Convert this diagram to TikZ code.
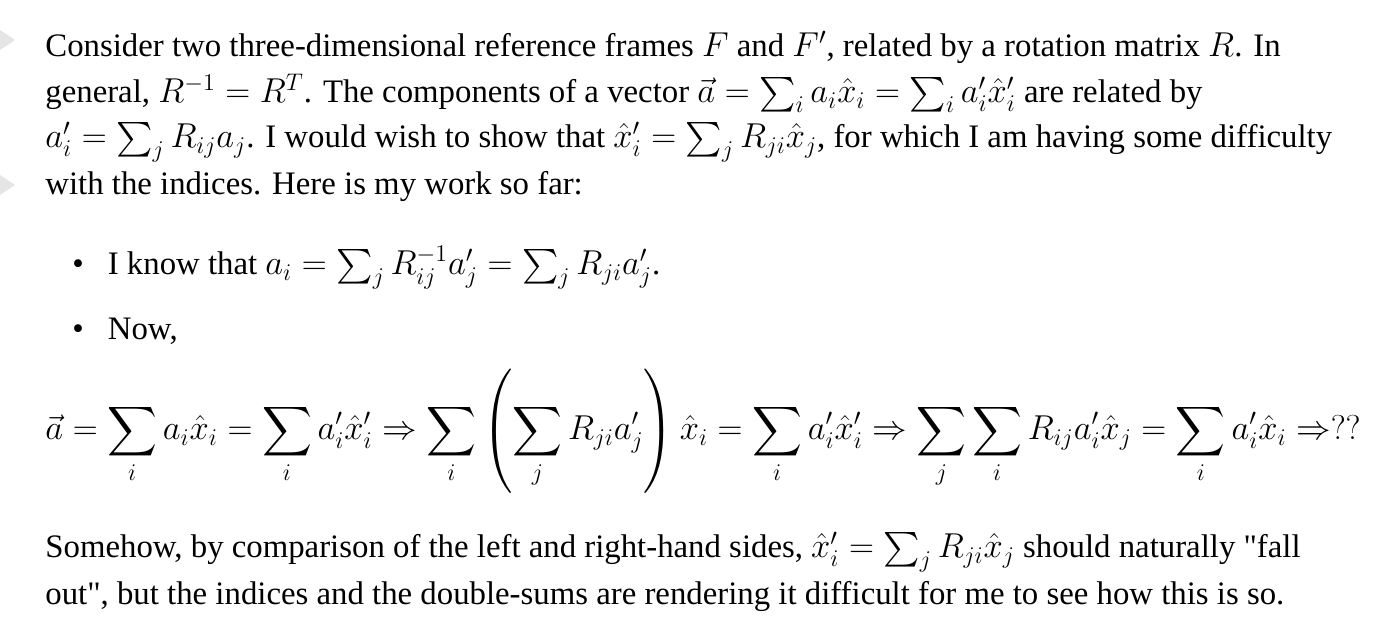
\documentclass[tikz,border=0pt]{standalone}
\usepackage{amsmath}
\usepackage{fontspec}
\setmainfont{Liberation Serif}
\newfontfamily\qf{Liberation Serif}[Ligatures=ResetAll]
\newcommand{\sq}{{\qf\symbol{34}}}
\begin{document}
\begin{tikzpicture}[x=0.5pt,y=-0.5pt,
  txt/.style={anchor=base west,inner sep=0pt,font=\fontsize{16.4}{19}\selectfont}]
\useasboundingbox (0,0) rectangle (1378,640);
\fill[gray!20] (0,30) -- (15,40) -- (0,50) -- cycle;
\fill[gray!20] (0,175) -- (15,185) -- (0,195) -- cycle;
\node[txt] (l1) at (45,57) {Consider two three-dimensional reference frames $F$ and $F'$, related by a rotation matrix $R$. In};
\node[txt] (l2) at (45,103) {general, $R^{-1}=R^T$. The components of a vector $\vec a=\sum_i a_i\hat x_i=\sum_i a'_i\hat x'_i$ are related by};
\node[txt] (l3) at (45,148) {$a'_i=\sum_j R_{ij}a_j$. I would wish to show that $\hat x'_i=\sum_j R_{ji}\hat x_j$, for which I am having some difficulty};
\node[txt] (l4) at (45,195) {with the indices. Here is my work so far:};
\node[txt] (b1) at (72,275) {\textbullet\hspace{12pt}I know that $a_i=\sum_j R^{-1}_{ij}a'_j=\sum_j R_{ji}a'_j$.};
\node[txt] (b2) at (72,340) {\textbullet\hspace{12pt}Now,};
\node[txt,font=\fontsize{17.3}{20}\selectfont] (eq) at (45,440) {$\displaystyle \vec a=\sum_i a_i\hat x_i=\sum_i a'_i\hat x'_i\Rightarrow\sum_i\left(\sum_j R_{ji}a'_j\right)\hat x_i=\sum_i a'_i\hat x'_i\Rightarrow\sum_j\sum_i R_{ij}a'_i\hat x_j=\sum_i a'_i\hat x_i\Rightarrow ??$};
\node[txt] (l5) at (45,558) {Somehow, by comparison of the left and right-hand sides, $\hat x'_i=\sum_j R_{ji}\hat x_j$ should naturally \sq fall};
\node[txt] (l6) at (45,605) {out\sq, but the indices and the double-sums are rendering it difficult for me to see how this is so.};
\end{tikzpicture}
\end{document}
